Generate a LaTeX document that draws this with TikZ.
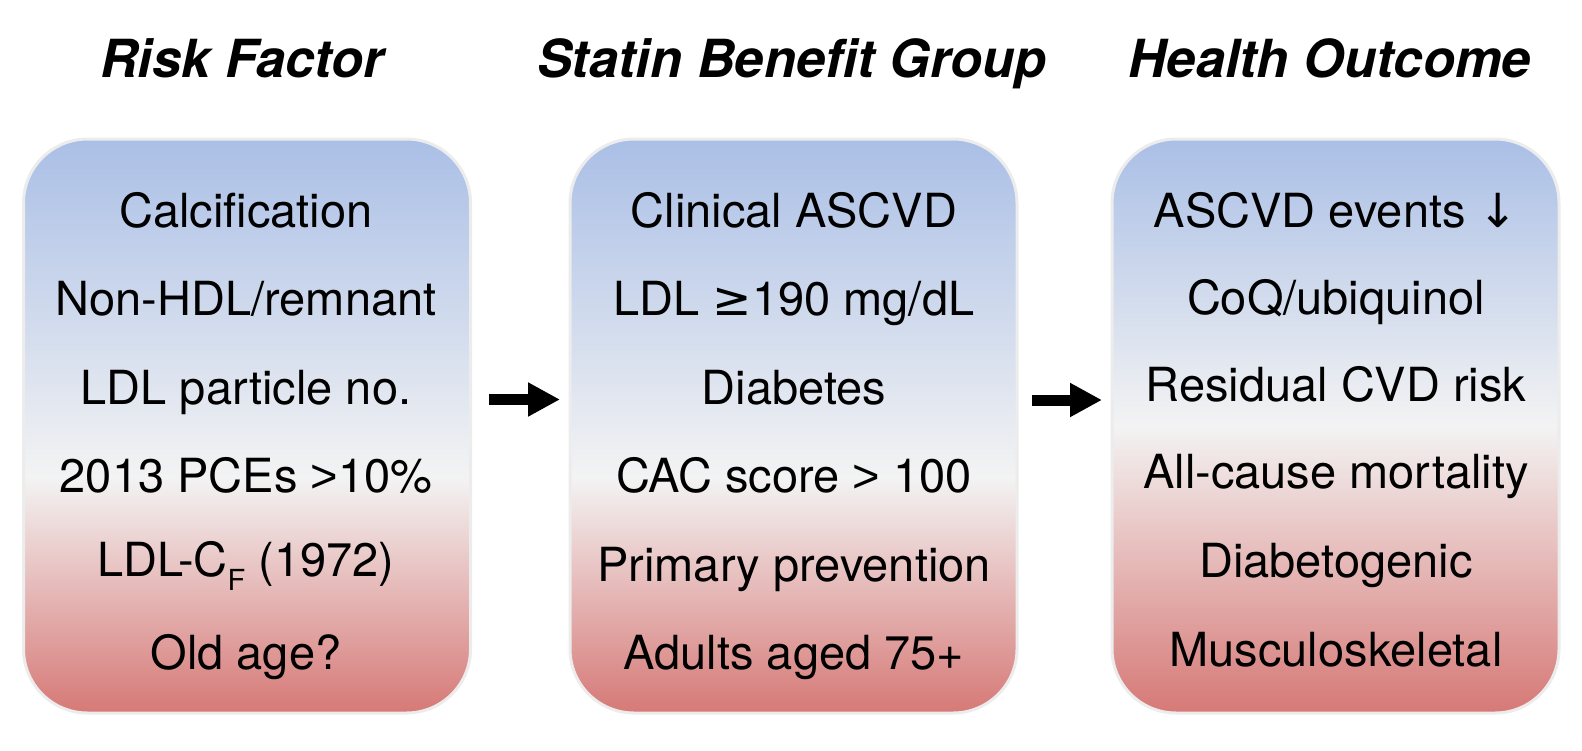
\documentclass[tikz,border=0pt]{standalone}
\usepackage{fontspec}
\setmainfont{TeX Gyre Heros}
\newfontfamily\symfont{DejaVu Sans}
\newfontfamily\altfont{Liberation Sans}
\usetikzlibrary{arrows.meta}
\definecolor{boxblue}{RGB}{170,191,230}
\definecolor{boxmid}{RGB}{243,243,243}
\definecolor{boxred}{RGB}{214,121,118}
\definecolor{boxedge}{RGB}{236,236,236}
\pgfdeclareverticalshading{panelshadeA}{100bp}{color(0bp)=(boxred); color(25bp)=(boxred); color(45.5bp)=(boxmid); color(75bp)=(boxblue); color(100bp)=(boxblue)}
\pgfdeclareverticalshading{panelshadeB}{100bp}{color(0bp)=(boxred); color(25bp)=(boxred); color(50bp)=(boxmid); color(75bp)=(boxblue); color(100bp)=(boxblue)}
\begin{document}
\begin{tikzpicture}[x=1pt,y=-1pt,
  panel/.style={draw=boxedge, line width=3pt, rounded corners=64pt,
    shading=panelshadeA,
    minimum width=447pt, minimum height=574pt, inner sep=0pt, outer sep=0pt},
  item/.style={anchor=base, font=\fontsize{47}{50}\selectfont, inner sep=0pt},
  heading/.style={anchor=base, font=\fontsize{52.5}{56}\selectfont\bfseries\itshape, inner sep=0pt},
  flow/.style={line width=11pt, -{Triangle[length=32pt,width=32pt]}}
]
\useasboundingbox (0,0) rectangle (1582,750);
\fill[white] (0,0) rectangle (1582,750);

\node[panel] (b1) at (247,426) {};
\node[panel] (b2) at (793.5,426) {};
\node[panel, shading=panelshadeB] (b3) at (1335.5,426) {};

\node[heading] (t1) at (242,77) {Risk Factor};
\node[heading] (t2) at (792,77) {Statin Benefit Group};
\node[heading] (t3) at (1330,77) {Health Outcome};

\node[item] (r1) at (246,227) {Calcification};
\node[item] (r2) at (246,315) {Non-HDL/remnant};
\node[item] (r3) at (246,404) {LDL particle no.};
\node[item] (r4) at (246,492) {2013 PCEs {\altfont >}10\%};
\node[item] (r5) at (246,576) {LDL-C\raisebox{-14pt}{\fontsize{29}{29}\selectfont F} (1972)};
\node[item] (r6) at (246,669) {Old age?};

\node[item] (s1) at (794,227) {Clinical ASCVD};
\node[item] (s2) at (794,315) {LDL {\symfont ≥}190 mg/dL};
\node[item] (s3) at (794,404) {Diabetes};
\node[item] (s4) at (794,492) {CAC score {\altfont >} 100};
\node[item] (s5) at (794,581) {Primary prevention};
\node[item] (s6) at (794,669) {Adults aged 75+};

\node[item] (h1) at (1336,227) {ASCVD events {\symfont ↓}};
\node[item] (h2) at (1336,314) {CoQ/ubiquinol};
\node[item] (h3) at (1336,401) {Residual CVD risk};
\node[item] (h4) at (1336,488) {All-cause mortality};
\node[item] (h5) at (1336,577) {Diabetogenic};
\node[item] (h6) at (1336,666) {Musculoskeletal};

\draw[flow, shorten <=18pt, shorten >=10pt] ([yshift=26.5pt]b1.east) -- ([yshift=26.5pt]b2.west);
\draw[flow, shorten <=15pt, shorten >=10pt] ([yshift=26pt]b2.east) -- ([yshift=26pt]b3.west);
\end{tikzpicture}
\end{document}
